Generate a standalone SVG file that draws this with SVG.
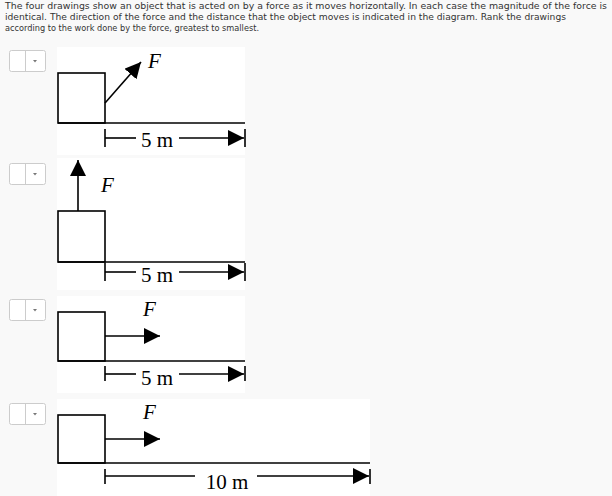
<svg xmlns="http://www.w3.org/2000/svg" width="612" height="496" viewBox="0 0 612 496">
<style>
.q{font-family:"DejaVu Sans",Verdana,sans-serif;font-size:8.6px;fill:#333}
.l{font-family:"Liberation Serif","Times New Roman",serif;font-size:21px;fill:#000}
.i{font-style:italic}
.k{stroke:#000;stroke-width:1.6;fill:none}
.bx{fill:#fff;stroke:#000;stroke-width:1.6}
.dd{fill:#fff;stroke:#ccc;stroke-width:1}
</style>
<defs>
<marker id="b" viewBox="0 0 10 10" refX="10" refY="5" markerWidth="16" markerHeight="16" markerUnits="userSpaceOnUse" orient="auto"><path d="M0,0L10,5L0,10z" fill="#000"/></marker>
<g id="dd"><rect class="dd" x="9.5" y="0.5" width="36" height="21" rx="2"/><line x1="25.5" y1="1" x2="25.5" y2="21" stroke="#ccc"/><path d="M33,10h4l-2,2.5z" fill="#777"/></g>
</defs>
<rect width="612" height="496" fill="#f9f9f9"/>
<text class="q" x="5" y="9" textLength="602" lengthAdjust="spacingAndGlyphs">The four drawings show an object that is acted on by a force as it moves horizontally.  In each case the magnitude of the force is</text>
<text class="q" x="5" y="20" textLength="561" lengthAdjust="spacingAndGlyphs">identical.  The direction of the force and the distance that the object moves is indicated in the diagram.  Rank the drawings</text>
<text class="q" x="5" y="31" textLength="254" lengthAdjust="spacingAndGlyphs">according to the work done by the force, greatest to smallest.</text>
<g id="p1">
<use href="#dd" y="50"/>
<rect x="57" y="47" width="188" height="108" fill="#fff"/>
<rect class="bx" x="58" y="73" width="47" height="50"/>
<line class="k" x1="58" y1="123" x2="245" y2="123"/>
<line class="k" x1="105" y1="103" x2="141" y2="62" marker-end="url(#b)"/>
<text class="l i" x="148" y="68">F</text>
<line class="k" x1="105" y1="129" x2="105" y2="147"/>
<line class="k" x1="105" y1="138" x2="136" y2="138"/>
<line class="k" x1="179" y1="138" x2="244" y2="138" marker-end="url(#b)"/>
<line class="k" x1="245" y1="129" x2="245" y2="147"/>
<text class="l" x="157" y="147" text-anchor="middle">5 m</text>
</g>
<g id="p2">
<use href="#dd" y="163"/>
<rect x="57" y="158" width="188" height="132" fill="#fff"/>
<rect class="bx" x="58" y="211" width="47" height="51"/>
<line class="k" x1="58" y1="262" x2="245" y2="262"/>
<line class="k" x1="78" y1="211" x2="78" y2="160" marker-end="url(#b)"/>
<text class="l i" x="101" y="192">F</text>
<line class="k" x1="105" y1="263" x2="105" y2="281"/>
<line class="k" x1="105" y1="272" x2="136" y2="272"/>
<line class="k" x1="179" y1="272" x2="244" y2="272" marker-end="url(#b)"/>
<line class="k" x1="245" y1="263" x2="245" y2="281"/>
<text class="l" x="157" y="282" text-anchor="middle">5 m</text>
</g>
<g id="p3">
<use href="#dd" y="299"/>
<rect x="57" y="296" width="188" height="97" fill="#fff"/>
<rect class="bx" x="58" y="312" width="47" height="49"/>
<line class="k" x1="58" y1="361" x2="245" y2="361"/>
<line class="k" x1="105" y1="336" x2="160" y2="336" marker-end="url(#b)"/>
<text class="l i" x="143" y="316">F</text>
<line class="k" x1="105" y1="366" x2="105" y2="381"/>
<line class="k" x1="105" y1="374" x2="136" y2="374"/>
<line class="k" x1="179" y1="374" x2="244" y2="374" marker-end="url(#b)"/>
<line class="k" x1="245" y1="366" x2="245" y2="381"/>
<text class="l" x="157" y="385" text-anchor="middle">5 m</text>
</g>
<g id="p4">
<use href="#dd" y="403"/>
<rect x="57" y="399" width="313" height="97" fill="#fff"/>
<rect class="bx" x="58" y="415" width="47" height="48"/>
<line class="k" x1="58" y1="463" x2="370" y2="463"/>
<line class="k" x1="105" y1="439" x2="160" y2="439" marker-end="url(#b)"/>
<text class="l i" x="143" y="419">F</text>
<line class="k" x1="105" y1="469" x2="105" y2="484"/>
<line class="k" x1="105" y1="476" x2="195" y2="476"/>
<line class="k" x1="257" y1="476" x2="369" y2="476" marker-end="url(#b)"/>
<line class="k" x1="370" y1="469" x2="370" y2="484"/>
<text class="l" x="227" y="489" text-anchor="middle">10 m</text>
</g>
</svg>
